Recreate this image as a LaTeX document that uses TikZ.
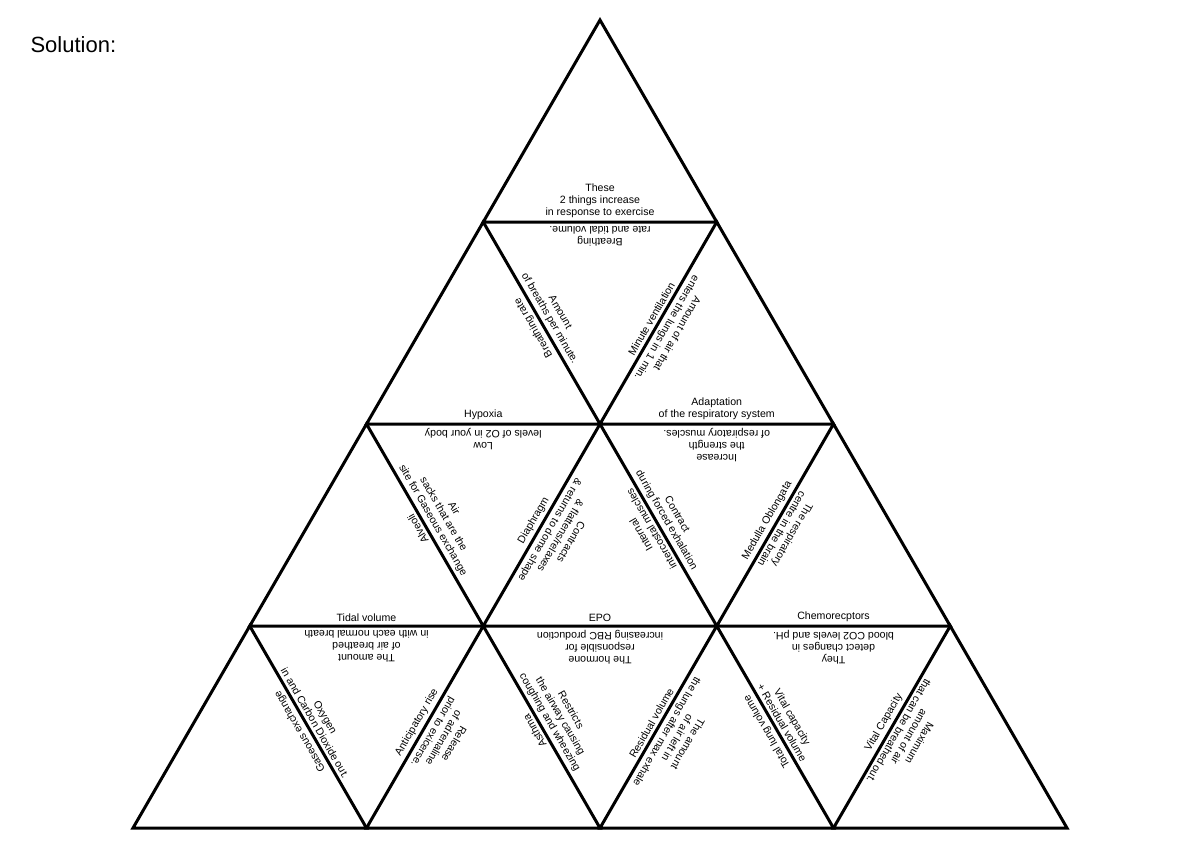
\documentclass[tikz,border=0pt]{standalone}
\usepackage{fontspec}
\setmainfont{Liberation Sans}
\usetikzlibrary{calc}
\tikzset{edge/.style={line width=3pt,line join=miter},
  lbl/.style={anchor=south,inner xsep=1pt,inner ysep=4pt,align=center,font=\fontsize{10.6}{12}\selectfont}}
\newcommand\lab[4]{\node[lbl,rotate=#3] at ($(#1)!0.5!(#2)$) {#4};}
\begin{document}
\begin{tikzpicture}[x=1pt,y=1pt]
\useasboundingbox (0,0) rectangle (1200,-849);
\foreach \r in {0,...,4}{
  \foreach \i in {0,...,\r}{
    \coordinate (p\r\i) at ({600-116.75*\r+233.5*\i},{-20-202*\r});
  }}
\foreach \r in {0,...,3}{
  \foreach \i in {0,...,\r}{
    \pgfmathtruncatemacro\rr{\r+1}
    \pgfmathtruncatemacro\ii{\i+1}
    \draw[edge] (p\r\i) -- (p\rr\i) -- (p\rr\ii) -- cycle;
  }}
\node[anchor=west,font=\fontsize{22}{24}\selectfont] (sol) at (27,-45) {Solution:};
% row 1 top
\lab{p10}{p11}{0}{These\\2 things increase\\in response to exercise}
\lab{p10}{p11}{180}{Breathing\\rate and tidal volume.}
\lab{p10}{p21}{120}{Breathing rate}
\lab{p10}{p21}{-60}{Amount\\of breaths per minute.}
\lab{p11}{p21}{60}{Minute ventilation}
\lab{p11}{p21}{-120}{Amount of air that\\enters the lungs in 1 min.}
% row 2
\lab{p20}{p21}{0}{Hypoxia}
\lab{p20}{p21}{180}{Low\\levels of O2 in your body}
\lab{p21}{p22}{0}{Adaptation\\of the respiratory system}
\lab{p21}{p22}{180}{Increase\\the strength\\of respiratory muscles.}
\lab{p20}{p31}{120}{Alveoli}
\lab{p20}{p31}{-60}{Air\\sacks that are the\\site for Gaseous exchange}
\lab{p21}{p31}{60}{Diaphragm}
\lab{p21}{p31}{-120}{Contracts\\\& flattens/relaxes\\\& returns to dome shape}
\lab{p21}{p32}{120}{Internal\\intercostal muscles}
\lab{p21}{p32}{-60}{Contract\\during forced exhalation}
\lab{p22}{p32}{60}{Medulla Oblongata}
\lab{p22}{p32}{-120}{The respiratory\\centre in the brain}
% row 3
\lab{p30}{p31}{0}{Tidal volume}
\lab{p30}{p31}{180}{The amount\\of air breathed\\in with each normal breath}
\lab{p31}{p32}{0}{EPO}
\lab{p31}{p32}{180}{The hormone\\responsible for\\increasing RBC production}
\lab{p32}{p33}{0}{Chemorecptors}
\lab{p32}{p33}{180}{They\\detect changes in\\blood CO2 levels and pH.}
\lab{p30}{p41}{120}{Gaseous exchange}
\lab{p30}{p41}{-60}{Oxygen\\in and Carbon Dioxide out.}
\lab{p31}{p41}{60}{Anticipatory rise}
\lab{p31}{p41}{-120}{Release\\of adrenaline\\prior to exicerse.}
\lab{p31}{p42}{120}{Asthma}
\lab{p31}{p42}{-60}{Restricts\\the airway causing\\coughing and wheezing}
\lab{p32}{p42}{60}{Residual volume}
\lab{p32}{p42}{-120}{The amount\\of air left in\\the lungs after max exhale}
\lab{p32}{p43}{120}{Total lung volume}
\lab{p32}{p43}{-60}{Vital capacity\\+ Residual volume}
\lab{p33}{p43}{60}{Vital Capacity}
\lab{p33}{p43}{-120}{Maximum\\amount of air\\that can be breathed out.}
\end{tikzpicture}
\end{document}
